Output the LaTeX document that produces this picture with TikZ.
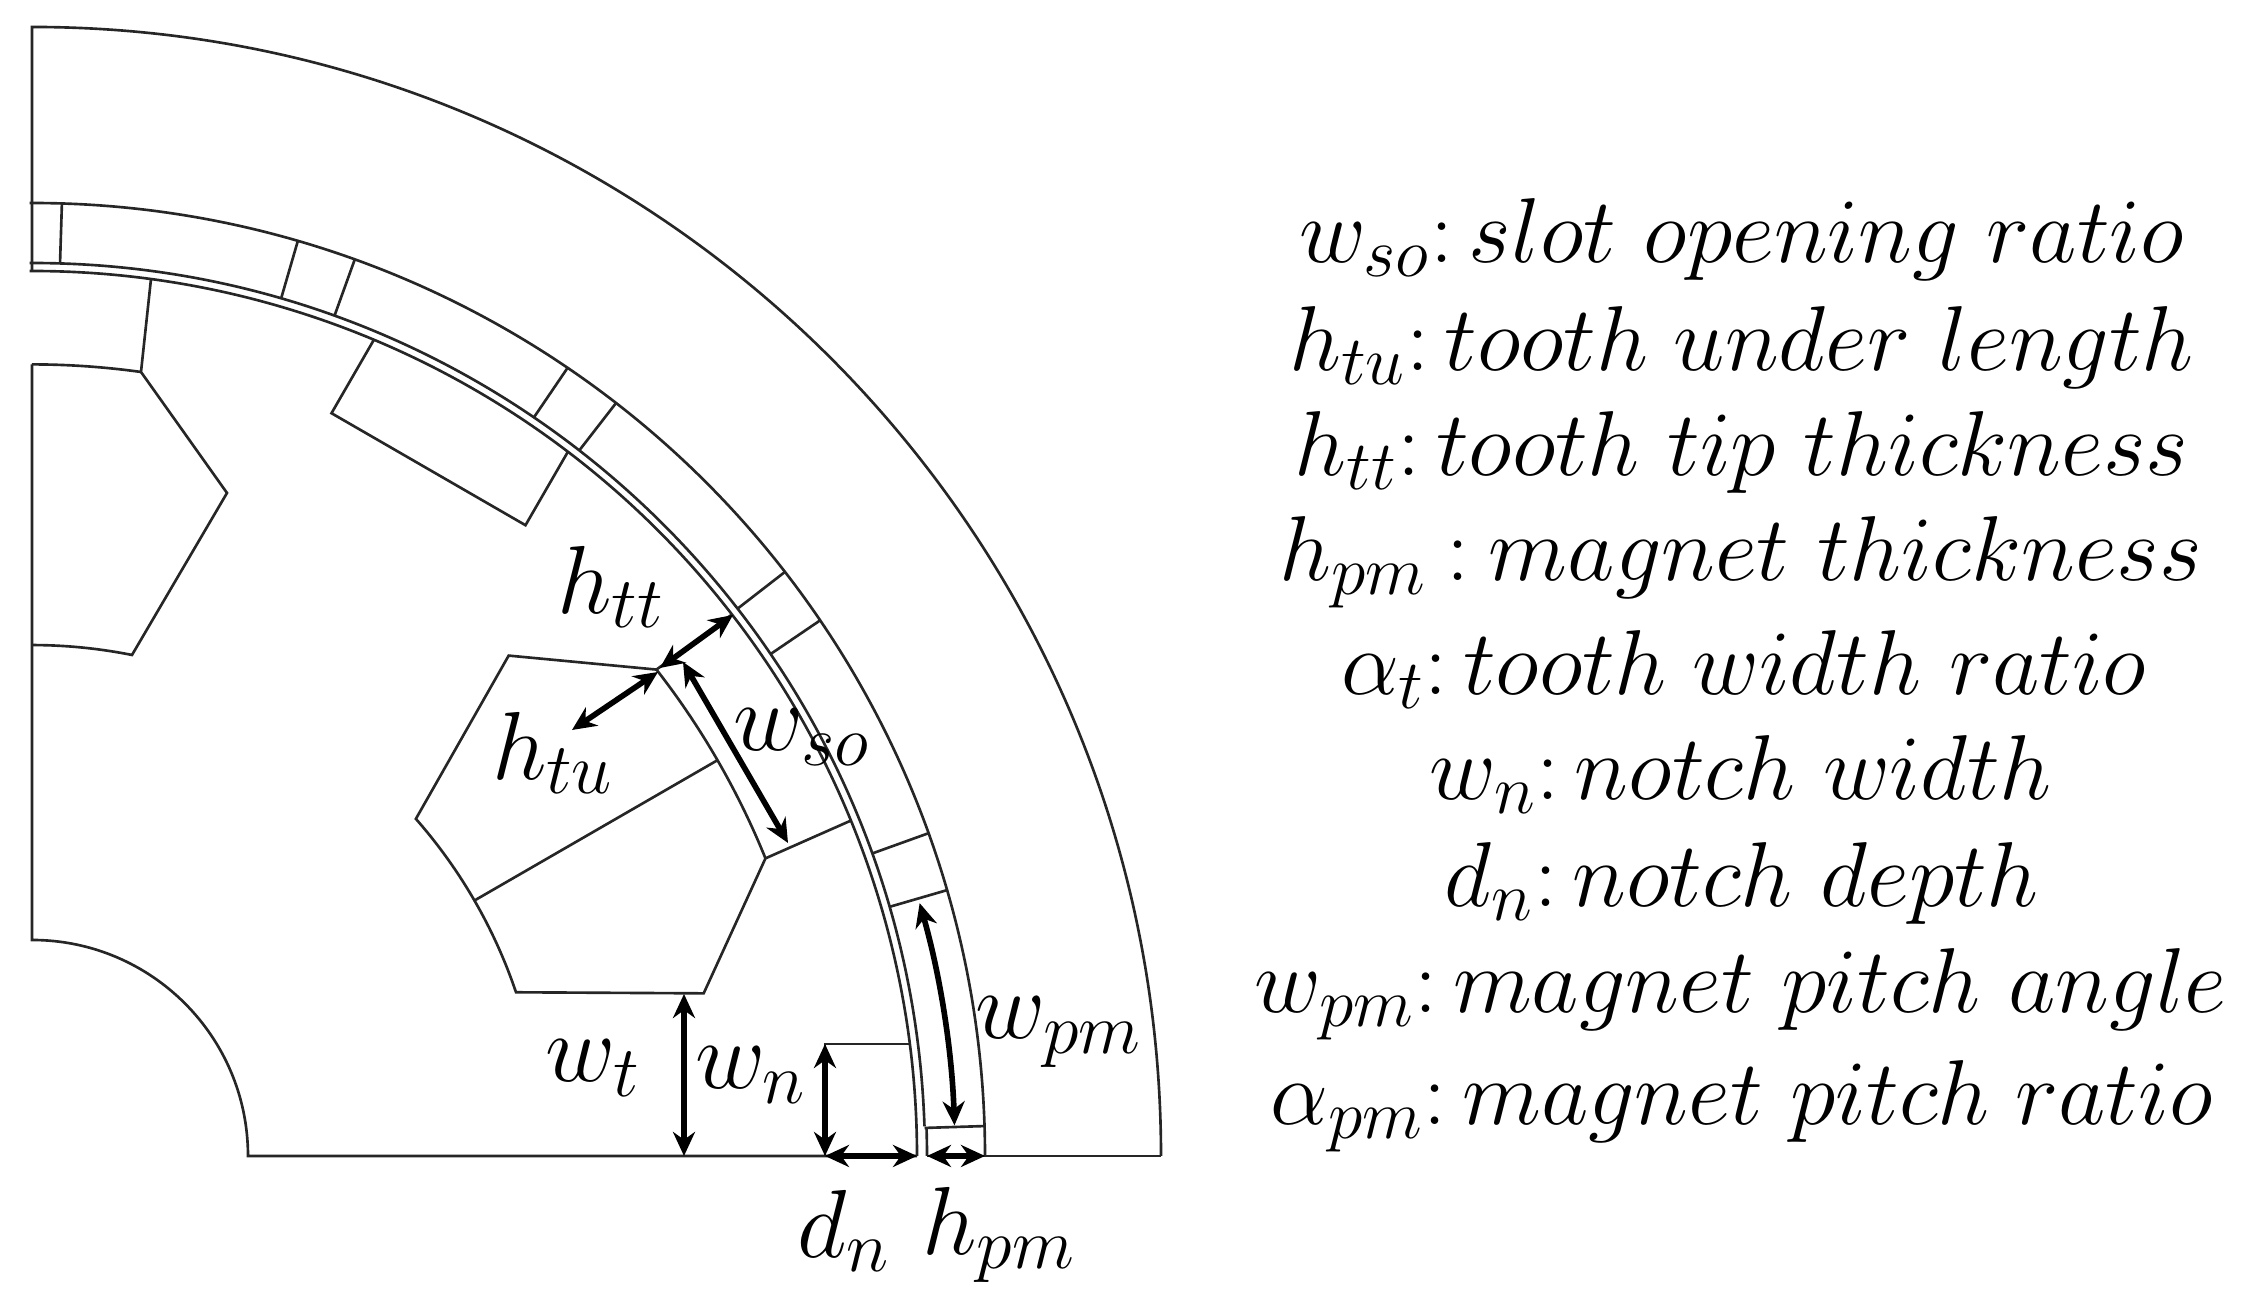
\documentclass[tikz,border=0pt]{standalone}
\usepackage{fix-cm}
\usetikzlibrary{arrows.meta}
\DeclareMathSizes{26.2}{26.2}{19.8}{15}
\DeclareMathSizes{27.5}{27.5}{20.5}{15}
\tikzset{
	part/.style={line width=0.75pt, black!85},
	dimarrow/.style={{Stealth[length=0.24cm,width=0.22cm]}-{Stealth[length=0.24cm,width=0.22cm]}, line width=1.6pt, black},
	dimlabel/.style={inner sep=0pt, font=\fontsize{27.5}{32}\selectfont},
	legendtext/.style={anchor=base, inner sep=0pt, font=\fontsize{26.2}{32}\selectfont}
}
\begin{document}
\begin{tikzpicture}[x=0.01cm, y=0.01cm]
	\useasboundingbox (0,0) rectangle (2253,1298);
	\begin{scope}[shift={(32,142)}]
		%rotor
		\draw[part] (0,885)--(0,1129) arc[start angle=90, end angle=0, radius=1129];
		\draw[part] (1129,0)--(895,0);
		\draw[part] (90.15:953) arc[start angle=90.15, end angle=0, radius=953];
		\draw[part] (90.15:893) arc[start angle=90.15, end angle=1.9, radius=893];
		\draw[part] (0:895) arc[start angle=0, end angle=1.8, radius=895];
		\foreach \a in {1.8, 16.2, 19.8, 34.2, 37.8, 52.2, 55.8, 70.2, 73.8, 88.2}{
			\draw[part] (\a:893)--(\a:953);
		}
		%stator
		\draw[part] (90.15:885) arc[start angle=90.15, end angle=0, radius=885];
		\draw[part] (885,0)--(216,0) arc[start angle=0, end angle=90, radius=216]--(0,791.5);
		%half slot
		\draw[part] (119,877)--(109,784)--(195,663)--(100,501) arc[start angle=78.7, end angle=90, radius=511];
		\draw[part] (109,784) arc[start angle=82.08, end angle=90, radius=791.5];
		%slot
		\begin{scope}[rotate=-60]
			\draw[part] (-119,877)--(-109,784)--(-195,663)--(-100,501) arc[start angle=101.3, end angle=78.7, radius=511]--(195,663)--(109,784)--(119,877);
			\draw[part] (-109,784) arc[start angle=97.92, end angle=82.08, radius=791.5];
			\draw[part] (0,511)--(0,791.5);
		\end{scope}
		%notches
		\draw[part] (793,0)--(793,112)--(878,112);
		\begin{scope}[rotate=60]
			\draw[part] (878,112)--(793,112)--(793,-112)--(878,-112);
		\end{scope}
		%dimension ends
		\coordinate (ttlow) at (628,488);
		\coordinate (tthigh) at (701,541);
		\coordinate (tulow) at (540,426);
		\coordinate (tuhigh) at (626,484);
		\coordinate (sohigh) at (651,494);
		\coordinate (solow) at (756,313);
		\coordinate (wthigh) at (652,162);
		\coordinate (wtlow) at (652,0);
		\coordinate (wnhigh) at (793,112);
		\coordinate (wnlow) at (793,0);
		\coordinate (dnright) at (885,0);
		\coordinate (pmleft) at (895,0);
		\coordinate (pmright) at (953,0);
		\coordinate (pmarc) at (1.9:923);
		\draw[dimarrow] (ttlow)--(tthigh);
		\draw[dimarrow] (tulow)--(tuhigh);
		\draw[dimarrow] (sohigh)--(solow);
		\draw[dimarrow] (wthigh)--(wtlow);
		\draw[dimarrow] (wnhigh)--(wnlow);
		\draw[dimarrow] (wnlow)--(dnright);
		\draw[dimarrow] (pmleft)--(pmright);
		\draw[dimarrow] (pmarc) arc[start angle=1.9, end angle=15.9, radius=923];
	\end{scope}
	%labels
	\node[dimlabel] (htt) at (611,711){$h_{tt}$};
	\node[dimlabel] (htu) at (553,545){$h_{tu}$};
	\node[dimlabel] (wso) at (802,561){$w_{so}$};
	\node[dimlabel] (wpm) at (1059,266){$w_{pm}$};
	\node[dimlabel] (wt) at (593,230){$w_{t}$};
	\node[dimlabel] (wn) at (751,223){$w_{n}$};
	\node[dimlabel] (dn) at (844,67){$d_{n}$};
	\node[dimlabel] (hpm) at (999,63){$h_{pm}$};
	%legend
	\node[legendtext] (lso) at (1742,1035){$w_{so}$:$\,slot\ opening\ ratio$};
	\node[legendtext] (ltu) at (1742,927){$h_{tu}$:$\,tooth\;under\ length$};
	\node[legendtext] (ltt) at (1742,822){$h_{tt}$:$\,tooth\ tip\ thickness$};
	\node[legendtext] (lhpm) at (1741,717){$h_{pm}$\hspace{5.5pt}:\hspace{5.5pt}$magnet\ thickness$};
	\node[legendtext] (lat) at (1744,603){$\alpha_{t}$:$\,tooth\;width\ ratio$};
	\node[legendtext] (lwn) at (1741,498){$w_{n}$:$\,notch\ width$};
	\node[legendtext] (ldn) at (1742,391){$d_{n}$:$\,notch\ depth$};
	\node[legendtext] (lwpm) at (1741,285){$w_{pm}$:$\,magnet\ pitch\ angle$};
	\node[legendtext] (lapm) at (1742,173){$\alpha_{pm}$:$\,magnet\ pitch\;ratio$};
\end{tikzpicture}
\end{document}
